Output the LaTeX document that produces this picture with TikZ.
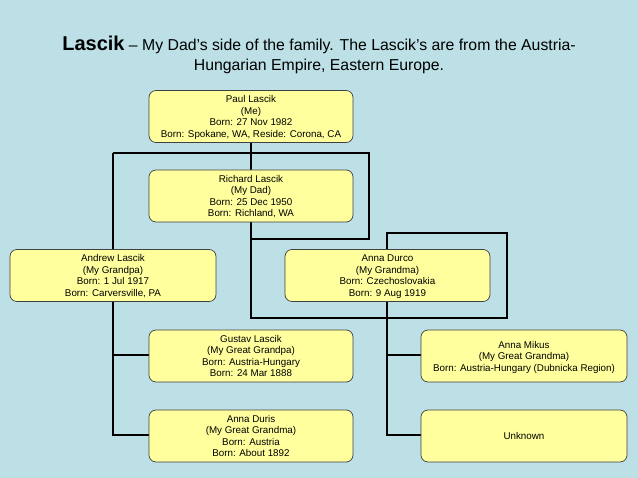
\documentclass[tikz,border=0pt]{standalone}
\usepackage{fontspec}
\setmainfont{Liberation Sans}
\begin{document}
\begin{tikzpicture}[x=1pt,y=-1pt,
  pbox/.style={draw=black!75,fill=boxy,rounded corners=7pt,line width=0.7pt,minimum width=#1,minimum height=52pt,align=center,font=\fontsize{9.8}{11.5}\selectfont,inner sep=1pt,text depth=-4pt},
  pbox/.default=204pt,
  link/.style={line width=1.8pt,black}]
\definecolor{bgc}{HTML}{BCE0E5}
\definecolor{boxy}{HTML}{FFFF9E}
\fill[bgc] (0,0) rectangle (638,478);
\useasboundingbox (0,0) rectangle (638,478);
\node[align=center,font=\fontsize{15.8}{20}\selectfont] (title) at (319,55)
 {{\fontsize{20}{20}\selectfont\bfseries Lascik} -- My Dad’s side of the family. The Lascik’s are from the Austria-\\Hungarian Empire, Eastern Europe.};
\coordinate (tl) at (113,153); \coordinate (tr) at (369,153);
\coordinate (rl) at (369,239); \coordinate (rm) at (251,239);
\coordinate (ml) at (251,318); \coordinate (mr) at (507,318);
\coordinate (ur) at (507,233); \coordinate (ul) at (387,233);
\coordinate (lb) at (113,435); \coordinate (rb) at (387,435);
\coordinate (l1) at (113,355); \coordinate (r1) at (387,355);
\coordinate (pb) at (251,153);
\draw[link] (tl) -- (tr) -- (rl) -- (rm);
\draw[link] (pb) -- (251,170);
\draw[link] (251,222) -- (ml) -- (mr) -- (ur) -- (ul) -- (rb) -- (421,435);
\draw[link] (tl) -- (lb) -- (149,435);
\draw[link] (l1) -- (149,355);
\draw[link] (r1) -- (421,355);
\draw[link] (251,143) -- (pb);
\node[pbox] (paul) at (251,116.5) {Paul Lascik\\(Me)\\Born: 27 Nov 1982\\Born: Spokane, WA, Reside: Corona, CA};
\node[pbox] (rich) at (251,196) {Richard Lascik\\(My Dad)\\Born: 25 Dec 1950\\Born: Richland, WA};
\node[pbox=206pt] (andrew) at (113,275.5) {Andrew Lascik\\(My Grandpa)\\Born: 1 Jul 1917\\Born: Carversville, PA};
\node[pbox=205pt] (durco) at (387.5,275.5) {Anna Durco\\(My Grandma)\\Born: Czechoslovakia\\Born: 9 Aug 1919};
\node[pbox] (gustav) at (251,356) {Gustav Lascik\\(My Great Grandpa)\\Born: Austria-Hungary\\Born: 24 Mar 1888};
\node[pbox] (duris) at (251,436) {Anna Duris\\(My Great Grandma)\\Born: Austria\\Born: About 1892};
\node[pbox=206pt] (mikus) at (524,356) {Anna Mikus\\(My Great Grandma)\\Born: Austria-Hungary (Dubnicka Region)};
\node[pbox=206pt] (unk) at (524,436) {Unknown};
\end{tikzpicture}
\end{document}
